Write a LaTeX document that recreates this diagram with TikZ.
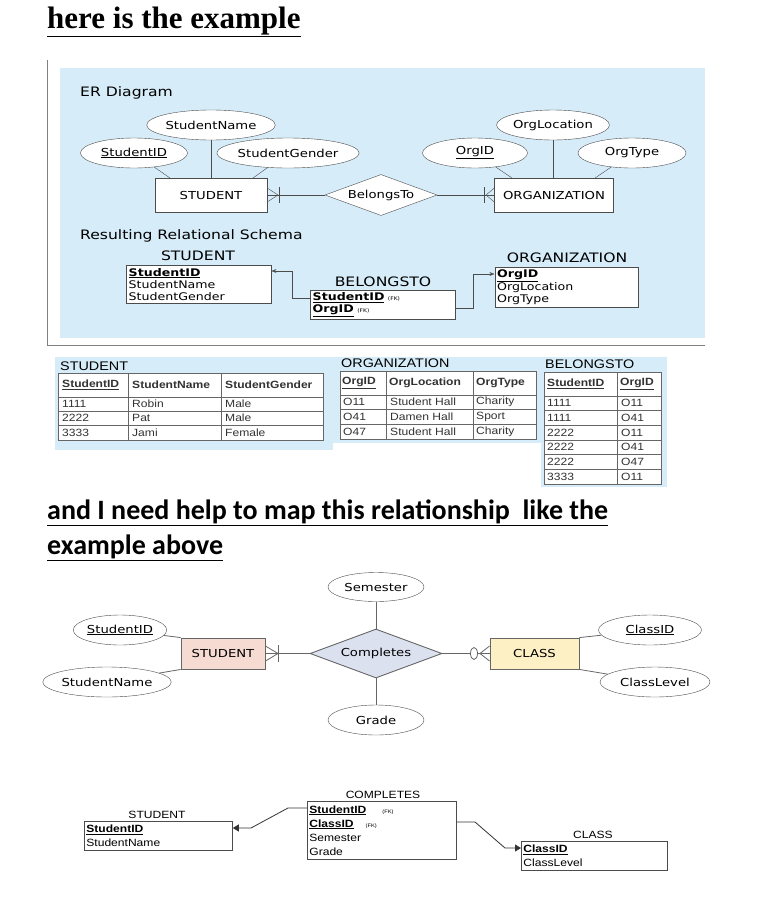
\documentclass[tikz,border=0pt]{standalone}
\usepackage{fontspec}
\setmainfont{Liberation Sans}[FakeStretch=1.15]
\newfontfamily\vfont{DejaVu Sans}[FakeStretch=1.2]
\newfontfamily\tfont{Liberation Serif}
\newfontfamily\cfont{Carlito}
\usetikzlibrary{shapes.geometric,arrows.meta}
\definecolor{panel}{HTML}{D6ECF8}
\definecolor{pinkfill}{HTML}{F5DBD2}
\definecolor{lavfill}{HTML}{DCE1F0}
\definecolor{yelfill}{HTML}{FCF0C4}
\tikzset{
  attr/.style={ellipse, draw=black!70, inner sep=0pt, font=\vfont\fontsize{11}{13}\selectfont},
  ent/.style={rectangle, draw=black!70, inner sep=0pt, font=\vfont\fontsize{11}{13}\selectfont},
  rel/.style={diamond, draw=black!70, inner sep=0pt, aspect=2.7, font=\vfont\fontsize{11}{13}\selectfont},
  sch/.style={rectangle, draw=black!70, anchor=north west, inner sep=2pt, align=left},
  cell/.style={anchor=west, inner sep=0pt, text=black!80, font=\fontsize{10.5}{11}\selectfont},
  lbl/.style={anchor=west, inner sep=0pt, font=\vfont\fontsize{13}{15}\selectfont},
  lnk/.style={draw=black!70, thin},
  grey/.style={draw=black!60, line width=0.8pt}
}
\begin{document}
\begin{tikzpicture}[x=1pt,y=-1pt]
\useasboundingbox (0,0) rectangle (784,924);

% Titel
\node[anchor=west, inner sep=0pt, font=\tfont\bfseries\fontsize{31}{34}\selectfont] (titel) at (47,22) {\underline{here is the example}};

% Voorbeeld: paneel
\draw[black!50] (47,60) -- (47,345) -- (705,345);
\fill[panel] (60,68) rectangle (705,338);
\node[lbl] (erd) at (80,93) {ER Diagram};

% Entiteiten en attributen
\node[ent, minimum width=112, minimum height=34, fill=white] (st) at (211,195) {STUDENT};
\node[ent, minimum width=119, minimum height=34, fill=white] (org) at (554,195) {ORGANIZATION};
\node[rel, minimum width=112, minimum height=41, fill=white] (bt) at (381,195) {BelongsTo};
\node[attr, minimum width=106, minimum height=30, fill=white] (sname) at (211,125) {StudentName};
\node[attr, minimum width=107, minimum height=30, fill=white] (sid) at (134,153) {\underline{StudentID}};
\node[attr, minimum width=114, minimum height=30, fill=white] (sgen) at (288,153) {StudentGender};
\node[attr, minimum width=108, minimum height=30, fill=white] (oloc) at (553,125) {OrgLocation};
\node[attr, minimum width=105, minimum height=30, fill=white] (oid) at (475,153) {\underline{OrgID}};
\node[attr, minimum width=108, minimum height=30, fill=white] (otype) at (632,153) {OrgType};
\draw[lnk] (sname) -- (sname |- st.north);
\draw[lnk] (sid) -- (170,178);
\draw[lnk] (sgen) -- (253,178);
\draw[lnk] (oloc) -- (oloc |- org.north);
\draw[lnk] (oid) -- (512,178);
\draw[lnk] (otype) -- (595,178);
\draw[lnk] (st.east) -- (bt.west);
\draw[lnk] (bt.east) -- (org.west);
% kraaienpoten
\draw[lnk] ([yshift=7]st.east) -- (278,195) -- ([yshift=-7]st.east);
\draw[lnk] (279,187) -- (279,203);
\draw[lnk] ([yshift=7]org.west) -- (486,195) -- ([yshift=-7]org.west);
\draw[lnk] (484,187) -- (484,203);

% Relationeel schema
\node[lbl] (rrs) at (80,236) {Resulting Relational Schema};
\begin{scope}[font=\vfont\fontsize{10.5}{12}\selectfont]
\node[font=\vfont\fontsize{13}{15}\selectfont] (lst) at (198,256) {STUDENT};
\node[sch, minimum width=145, minimum height=38, fill=white, text width=140] (tst) at (126,265) {\textbf{\underline{StudentID}}\\StudentName\\StudentGender};
\node[font=\vfont\fontsize{13}{15}\selectfont] (lbt) at (383,282) {BELONGSTO};
\node[sch, minimum width=145, minimum height=29, fill=white, text width=140] (tbt) at (310,290) {\textbf{\underline{StudentID}} {\tiny(FK)}\\\textbf{\underline{OrgID}} {\tiny(FK)}};
\node[font=\vfont\fontsize{13}{15}\selectfont] (lorg) at (567,258) {ORGANIZATION};
\node[sch, minimum width=143, minimum height=40, fill=white, text width=138] (torg) at (494.5,267) {\textbf{\underline{OrgID}}\\OrgLocation\\OrgType};
\end{scope}
\draw[lnk, -{Stealth[length=5pt]}] ([yshift=6.5]tbt.west) -| (292,271) -- (tst.north east |- 0,271);
\draw[lnk, -{Stealth[length=5pt]}] ([yshift=-3.5]tbt.east) -| (473,274) -- (torg.north west |- 0,274);

% Tabellen
\fill[panel] (55,357) rectangle (333,450);
\fill[panel] (333,357) rectangle (541,443);
\fill[panel] (541,357) rectangle (667,487);
\node[anchor=west, inner sep=0pt, font=\fontsize{12.5}{14}\selectfont] (hst) at (60,366) {STUDENT};
\node[anchor=west, inner sep=0pt, font=\fontsize{12.5}{14}\selectfont] (horg) at (341,363) {ORGANIZATION};
\node[anchor=west, inner sep=0pt, font=\fontsize{12.5}{14}\selectfont] (hbt) at (545,364) {BELONGSTO};
\draw[grey, fill=white] (58,373) rectangle (323,440);
\foreach \x in {128,221} \draw[grey] (\x,373) -- (\x,440);
\foreach \y in {397,411,425} \draw[grey] (58,\y) -- (323,\y);
\draw[grey, fill=white] (340,371) rectangle (536,439);
\foreach \x in {386,473.5} \draw[grey] (\x,371) -- (\x,439);
\foreach \y in {395,409,424} \draw[grey] (340,\y) -- (536,\y);
\draw[grey, fill=white] (544,372) rectangle (661,484);
\draw[grey] (617.5,372) -- (617.5,484);
\foreach \y in {396,410.5,425,440,454.5,469} \draw[grey] (544,\y) -- (661,\y);
% kopregels
\node[cell, font=\bfseries\fontsize{10.5}{11}\selectfont] (c1) at (62,385) {\underline{StudentID}};
\node[cell, font=\bfseries\fontsize{10.5}{11}\selectfont] (c2) at (132,385) {StudentName};
\node[cell, font=\bfseries\fontsize{10.5}{11}\selectfont] (c3) at (225,385) {StudentGender};
\node[cell, font=\bfseries\fontsize{10.5}{11}\selectfont] (c4) at (342,383) {\underline{OrgID}};
\node[cell, font=\bfseries\fontsize{10.5}{11}\selectfont] (c5) at (389,383) {OrgLocation};
\node[cell, font=\bfseries\fontsize{10.5}{11}\selectfont] (c6) at (476,383) {OrgType};
\node[cell, font=\bfseries\fontsize{10.5}{11}\selectfont] (c7) at (547,384) {\underline{StudentID}};
\node[cell, font=\bfseries\fontsize{10.5}{11}\selectfont] (c8) at (620,384) {\underline{OrgID}};
% rijen
\foreach \y/\a/\b/\c [count=\n] in {404/1111/Robin/Male, 418/2222/Pat/Male, 432.5/3333/Jami/Female}{
  \node[cell] (sa\n) at (62,\y) {\a};
  \node[cell] (sb\n) at (132,\y) {\b};
  \node[cell] (sc\n) at (225,\y) {\c};
}
\foreach \y/\a/\b/\c [count=\n] in {402/O11/Student Hall/Charity, 416.5/O41/Damen Hall/Sport, 431.5/O47/Student Hall/Charity}{
  \node[cell] (oa\n) at (343,\y) {\a};
  \node[cell] (ob\n) at (390,\y) {\b};
  \node[cell] (oc\n) at (476,\y) {\c};
}
\foreach \y/\a/\b [count=\n] in {403/1111/O11, 417.7/1111/O41, 432.5/2222/O11, 447.2/2222/O41, 461.7/2222/O47, 476.5/3333/O11}{
  \node[cell] (ba\n) at (547,\y) {\a};
  \node[cell] (bb\n) at (621,\y) {\b};
}

% Vraag
\node[anchor=west, inner sep=0pt, font=\cfont\bfseries\fontsize{28}{30}\selectfont] (vraag1) at (47,513) {\underline{and I need help to map this relationship\ \ like the}};
\node[anchor=west, inner sep=0pt, font=\cfont\bfseries\fontsize{28}{30}\selectfont] (vraag2) at (47,548) {\underline{example above}};

% ER-diagram opdracht
\begin{scope}[every node/.append style={font=\fontsize{12}{14}\selectfont}]
\node[ent, minimum width=84, minimum height=31, fill=pinkfill, draw=black!60, line width=0.9pt] (est) at (223,653.5) {STUDENT};
\node[ent, minimum width=89, minimum height=31, fill=yelfill, draw=black!60, line width=0.9pt] (ecl) at (534.5,653.5) {CLASS};
\node[rel, minimum width=132, minimum height=49, fill=lavfill, draw=black!60, line width=0.9pt] (ecomp) at (376,653.5) {Completes};
\node[attr, minimum width=96, minimum height=29, draw=black!70, fill=white] (esem) at (376,587) {Semester};
\node[attr, minimum width=96, minimum height=30, draw=black!70, fill=white] (egr) at (376,720) {Grade};
\node[attr, minimum width=90, minimum height=30, draw=black!70, fill=white] (esid) at (120,630) {\underline{StudentID}};
\node[attr, minimum width=120, minimum height=30, draw=black!70, fill=white] (esname) at (107,682) {StudentName};
\node[attr, minimum width=103, minimum height=30, draw=black!70, fill=white] (ecid) at (650,630) {\underline{ClassID}};
\node[attr, minimum width=110, minimum height=30, draw=black!70, fill=white] (eclev) at (655,682) {ClassLevel};
\end{scope}
\draw[grey] (esem) -- (ecomp.north);
\draw[grey] (egr) -- (ecomp.south);
\draw[grey] (esid) -- (est.north west);
\draw[grey] (esname) -- (est.south west);
\draw[grey] (ecid) -- (ecl.north east);
\draw[grey] (eclev) -- (ecl.south east);
\draw[grey] (est.east) -- (ecomp.west);
\draw[grey] (ecomp.east) -- (ecl.west);
% kraaienpoten
\draw[grey] ([yshift=7.5]est.east) -- (278,653.5) -- ([yshift=-7.5]est.east);
\draw[grey] (278,645) -- (278,662);
\draw[grey] ([yshift=7.5]ecl.west) -- (480,653.5) -- ([yshift=-7.5]ecl.west);
\draw[grey, fill=white] (474,653.5) ellipse (3.5 and 6);

% Relationeel schema opdracht
\begin{scope}[every node/.append style={font=\fontsize{10.5}{14}\selectfont}]
\node (lst2) at (157,815) {STUDENT};
\node[sch, minimum width=148, minimum height=29, text width=144, line width=0.8pt] (tst2) at (84,821) {\textbf{\underline{StudentID}}\\StudentName};
\node (lcomp) at (383,795) {COMPLETES};
\node[sch, minimum width=149, minimum height=58, text width=145, line width=0.8pt] (tcomp) at (307,801) {\textbf{\underline{StudentID}}\hspace{16pt}{\tiny(FK)}\\\textbf{\underline{ClassID}}\hspace{12pt}{\tiny(FK)}\\Semester\\Grade};
\node (lcl) at (593,835) {CLASS};
\node[sch, minimum width=146, minimum height=29, text width=142, line width=0.8pt] (tcl) at (521,841) {\textbf{\underline{ClassID}}\\ClassLevel};
\end{scope}
\coordinate (k1) at (288,808);
\coordinate (k2) at (251,828);
\coordinate (k3) at (475,822);
\coordinate (k4) at (505,848);
\draw[black!80, line width=0.8pt, -{Triangle[length=6pt,width=7pt]}] (tcomp.north west |- k1) -- (k1) -- (k2) -- (tst2.north east |- k2);
\draw[black!80, line width=0.8pt, -{Triangle[length=6pt,width=7pt]}] (tcomp.north east |- k3) -- (k3) -- (k4) -- (tcl.north west |- k4);

\end{tikzpicture}
\end{document}
